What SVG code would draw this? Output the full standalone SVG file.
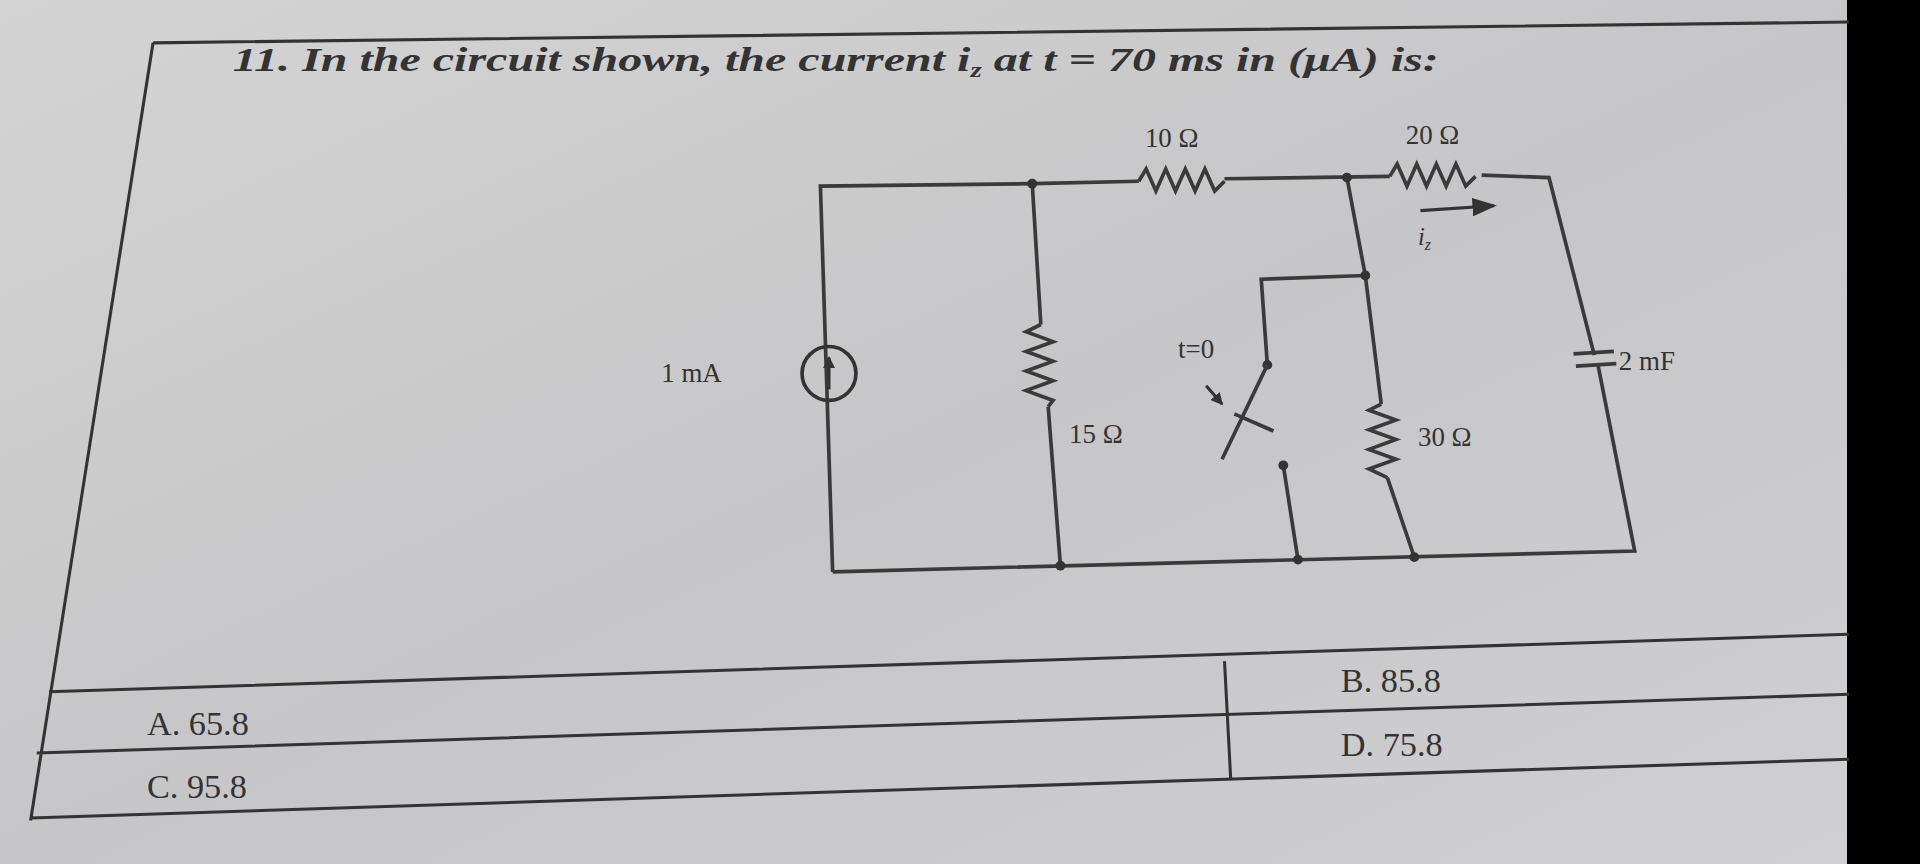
<svg xmlns="http://www.w3.org/2000/svg" width="1920" height="864" viewBox="0 0 1920 864">
<defs>
<linearGradient id="bg" x1="0" y1="0" x2="1" y2="1"><stop offset="0" stop-color="#d4d4d4"/><stop offset="0.5" stop-color="#c6c6c8"/><stop offset="1" stop-color="#d0d0d2"/></linearGradient>
<marker id="ar" markerWidth="8" markerHeight="6" refX="7" refY="3" orient="auto"><path d="M0,0 L8,3 L0,6 z" fill="#333"/></marker>
<marker id="ar2" markerWidth="4" markerHeight="4" refX="3.5" refY="2" orient="auto"><path d="M0,0 L4,2 L0,4 z" fill="#333"/></marker>
</defs>
<style>
.w{stroke:#3a3a3a;stroke-width:3;fill:none}
.b{stroke:#333;stroke-width:2.5;fill:none}
.t{font-family:"Liberation Serif",serif;fill:#333}
.d{fill:#333}
</style>
<rect width="1920" height="864" fill="url(#bg)"/>
<rect x="1847" y="0" width="73" height="864" fill="#000"/>
<g transform="scale(1.2245)">
<g id="frame">
<path class="b" d="M125,35 L1510,18 M125,35 L25,670 M40,565 L1510,518 M30,615 L1510,567 M25,668 L1510,620 M1000,540 L1005,635"/>
</g>
<text class="t" x="190" y="58" font-size="28" font-weight="bold" font-style="italic" textLength="985" lengthAdjust="spacingAndGlyphs">11. In the circuit shown, the current <tspan>i</tspan><tspan font-size="17" dy="5">z</tspan><tspan dy="-5"> at t = 70 ms in (μA) is:</tspan></text>
<g id="connectors">
<path class="w" d="M680,467 L670,152 L843,150 L930,148 M1000,146 L1135,144 M1210,143 L1265,145 L1302,290 M1305,298 L1335,450 L680,467"/>
<path class="w" d="M843,150 L850,265 M856,332 L866,462"/>
<path class="w" d="M1100,145 L1115,225 L1128,330 M1133,390 L1155,455"/>
<path class="w" d="M1115,225 L1030,228 L1035,298 M1048,380 L1060,457"/>
</g>
<g id="R10"><path class="w" d="M930,148 l6,-10 l8,18 l8,-18 l8,18 l8,-18 l8,18 l8,-18 l8,18 l8,-8"/><text class="t" x="935" y="120" font-size="22">10 Ω</text></g>
<g id="R20"><path class="w" d="M1135,144 l6,-10 l8,18 l8,-18 l8,18 l8,-18 l8,18 l8,-18 l8,18 l8,-8"/><text class="t" x="1148" y="118" font-size="22">20 Ω</text>
<path class="b" d="M1160,172 L1220,168" marker-end="url(#ar)"/><text class="t" x="1158" y="200" font-size="20" font-style="italic">i<tspan font-size="13" dy="4">z</tspan></text></g>
<g id="R15"><path class="w" d="M850,265 l-12,6 l22,8 l-22,8 l22,8 l-22,8 l22,8 l-22,8 l22,8 l-4,5"/><text class="t" x="873" y="362" font-size="22">15 Ω</text></g>
<g id="R30"><path class="w" d="M1128,330 l-10,5 l22,8 l-22,8 l22,8 l-22,8 l22,8 l-22,8 l15,7"/><text class="t" x="1158" y="364" font-size="22">30 Ω</text></g>
<g id="src"><circle cx="677" cy="305" r="22" fill="none" stroke="#333" stroke-width="3"/><path class="b" d="M677,318 L677,292" marker-end="url(#ar2)"/><text class="t" x="540" y="312" font-size="22">1 mA</text></g>
<g id="cap"><path class="w" d="M1285,289 L1318,287 M1287,299 L1320,297"/><text class="t" x="1322" y="302" font-size="22">2 mF</text></g>
<g id="sw"><circle class="d" cx="1035" cy="298" r="4"/><circle class="d" cx="1048" cy="380" r="4"/>
<path class="w" d="M1035,298 L998,375 M1008,338 L1040,352"/><path class="b" d="M985,315 L998,330" marker-end="url(#ar2)"/>
<text class="t" x="962" y="292" font-size="22">t=0</text></g>
<g id="dots"><circle class="d" cx="843" cy="150" r="4"/><circle class="d" cx="1100" cy="145" r="4"/><circle class="d" cx="1115" cy="225" r="4"/><circle class="d" cx="866" cy="462" r="4"/><circle class="d" cx="1060" cy="457" r="4"/><circle class="d" cx="1155" cy="455" r="4"/></g>
<g id="answers" class="t" font-size="28">
<text x="120" y="600">A. 65.8</text><text x="120" y="652">C. 95.8</text>
<text x="1095" y="565">B. 85.8</text><text x="1095" y="617">D. 75.8</text>
</g>
</g>
</svg>
